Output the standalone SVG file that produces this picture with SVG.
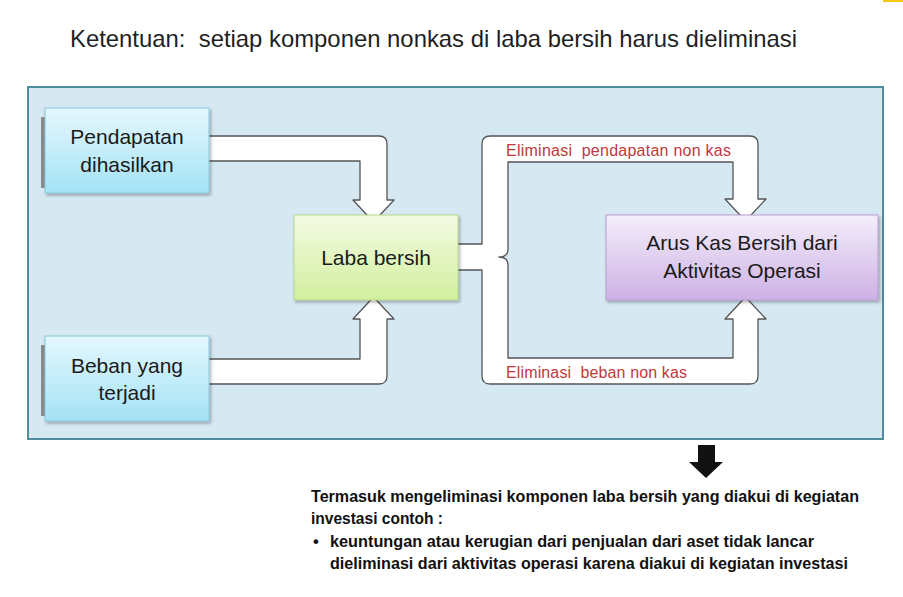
<svg xmlns="http://www.w3.org/2000/svg" width="903" height="597" viewBox="0 0 903 597">
<style>
.title{font-family:"Liberation Sans",Arial,sans-serif;font-size:24px;fill:#1f1f1f;white-space:pre}
.node{font-family:"Liberation Sans",Arial,sans-serif;font-size:21px;fill:#1a1a1a;text-anchor:middle}
.lbl{font-family:"Liberation Sans",Arial,sans-serif;font-size:16px;fill:#c0393b;white-space:pre}
.note{font-family:"Liberation Sans",Arial,sans-serif;font-size:16.5px;font-weight:bold;fill:#111}
.flow{fill:#ffffff;stroke:#555555;stroke-width:1.3;stroke-linejoin:round}
</style>
<defs>
<linearGradient id="gCyan" x1="0" y1="0" x2="0" y2="1"><stop offset="0" stop-color="#e4f8fe"/><stop offset="1" stop-color="#a4e2f6"/></linearGradient>
<linearGradient id="gGreen" x1="0" y1="0" x2="0" y2="1"><stop offset="0" stop-color="#f4fbe3"/><stop offset="1" stop-color="#d2ef9e"/></linearGradient>
<linearGradient id="gPurple" x1="0" y1="0" x2="0" y2="1"><stop offset="0" stop-color="#f4eefa"/><stop offset="1" stop-color="#cdb0e5"/></linearGradient>
<filter id="sh" x="-10%" y="-10%" width="125%" height="130%"><feDropShadow dx="1.5" dy="2" stdDeviation="1.5" flood-color="#000" flood-opacity="0.3"/></filter>
</defs>
<rect x="883" y="0" width="20" height="2" fill="#f2c811"/>
<text class="title" x="70" y="47" textLength="727" lengthAdjust="spacingAndGlyphs" xml:space="preserve">Ketentuan:  setiap komponen nonkas di laba bersih harus dieliminasi</text>
<rect id="panel" x="28" y="87" width="855" height="352" fill="#d6e9f3" stroke="#4f8c9c" stroke-width="2"/>
<g id="connectors">
<path class="flow" d="M205,136 H379 Q387,136 387,144 V200 H394 L373.5,222 L353,200 H360 V161 H205 Z"/>
<path class="flow" d="M205,359 H360 V319 H353 L373.5,297 L394,319 H387 V376 Q387,384 379,384 H205 Z"/>
<path class="flow" d="M454,244 H482 V144 Q482,136 490,136 H750 Q758,136 758,144 V199 H766 L745.5,221 L725,199 H733 V162 H508 V249 Q508,257 499,257 Q508,257 508,265 V358 H733 V319 H725 L745.5,297 L766,319 H758 V376 Q758,384 750,384 H490 Q482,384 482,376 V270 H454 Z"/>
<text class="lbl" x="506" y="156" textLength="225" xml:space="preserve">Eliminasi  pendapatan non kas</text>
<text class="lbl" x="506" y="378" textLength="181" xml:space="preserve">Eliminasi  beban non kas</text>
</g>
<g id="pendapatan">
<rect x="41" y="117" width="4" height="71" fill="#8a8a8a"/>
<rect x="45" y="108" width="164" height="85" fill="url(#gCyan)" stroke="#8cc6da" stroke-width="1" filter="url(#sh)"/>
<text class="node" x="127" y="144">Pendapatan</text>
<text class="node" x="127" y="172">dihasilkan</text>
</g>
<g id="beban">
<rect x="41" y="345" width="4" height="71" fill="#8a8a8a"/>
<rect x="45" y="336" width="164" height="85" fill="url(#gCyan)" stroke="#8cc6da" stroke-width="1" filter="url(#sh)"/>
<text class="node" x="127" y="373">Beban yang</text>
<text class="node" x="127" y="400">terjadi</text>
</g>
<g id="laba">
<rect x="294" y="215" width="164" height="85" fill="url(#gGreen)" stroke="#b6d78c" stroke-width="1" filter="url(#sh)"/>
<text class="node" x="376" y="265">Laba bersih</text>
</g>
<g id="aruskas">
<rect x="606" y="215" width="272" height="85" fill="url(#gPurple)" stroke="#b79ecf" stroke-width="1" filter="url(#sh)"/>
<text class="node" x="742" y="250">Arus Kas Bersih dari</text>
<text class="node" x="742" y="278">Aktivitas Operasi</text>
</g>
<g id="down-arrow">
<path d="M698,445 H715 V462 H723 L706,478 L689,462 H698 Z" fill="#111111"/>
</g>
<g id="note">
<text class="note" x="311" y="502" textLength="548" lengthAdjust="spacingAndGlyphs">Termasuk mengeliminasi komponen laba bersih yang diakui di kegiatan</text>
<text class="note" x="311" y="524" textLength="132" lengthAdjust="spacingAndGlyphs">investasi contoh :</text>
<text class="note" x="313" y="547">•</text>
<text class="note" x="330" y="547" textLength="484" lengthAdjust="spacingAndGlyphs">keuntungan atau kerugian dari penjualan dari aset tidak lancar</text>
<text class="note" x="330" y="569" textLength="518" lengthAdjust="spacingAndGlyphs">dieliminasi dari aktivitas operasi karena diakui di kegiatan investasi</text>
</g>
</svg>
